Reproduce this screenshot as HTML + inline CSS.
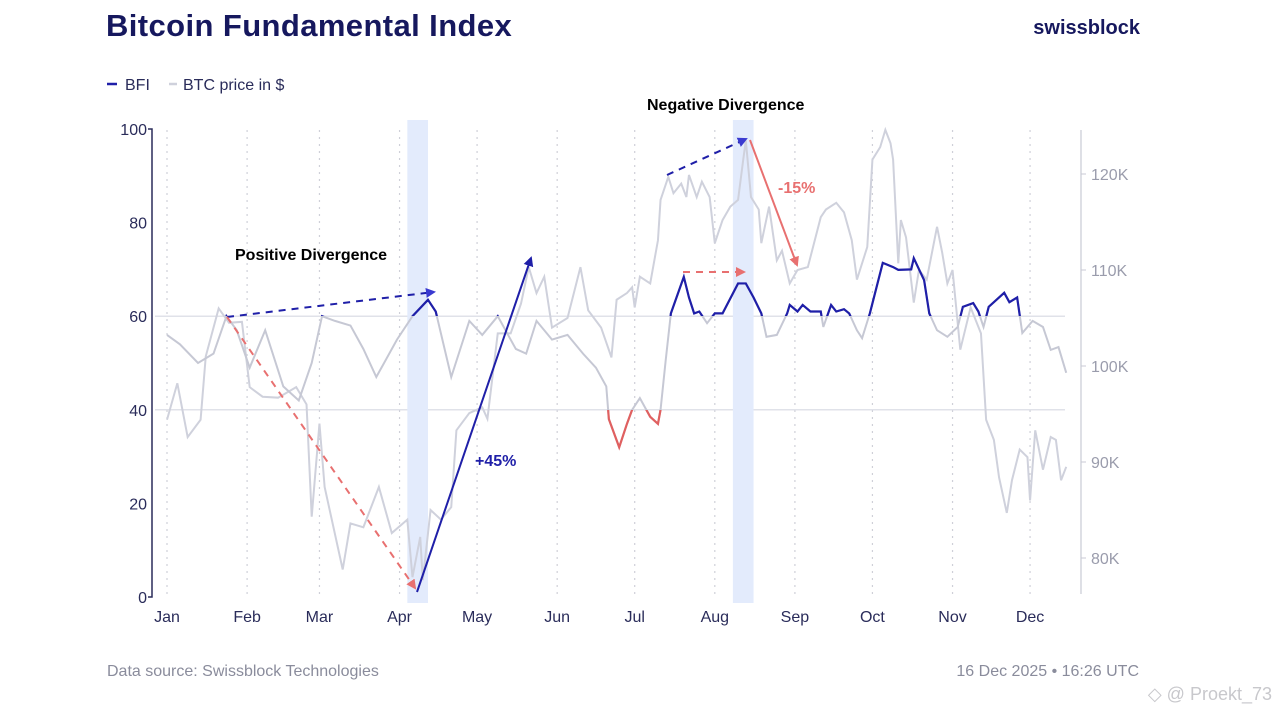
<!DOCTYPE html>
<html><head><meta charset="utf-8"><style>
body{margin:0;background:#fff;width:1280px;height:720px;overflow:hidden;font-family:"Liberation Sans",sans-serif}
svg{position:absolute;left:0;top:0}
</style></head><body>
<svg width="1280" height="720" viewBox="0 0 1280 720" id="chart">
<defs>
<clipPath id="clipBlue"><rect x="0" y="0" width="1280" height="316"/></clipPath>
<clipPath id="clipRed"><rect x="0" y="410" width="1280" height="300"/></clipPath>
<marker id="mBlue" viewBox="0 0 10 10" refX="8" refY="5" markerWidth="5" markerHeight="5" orient="auto"><path d="M0,0L10,5L0,10z" fill="#3a3ad0"/></marker>
<marker id="mNavy" viewBox="0 0 10 10" refX="8" refY="5" markerWidth="5" markerHeight="5" orient="auto"><path d="M0,0L10,5L0,10z" fill="#1f1fa8"/></marker>
<marker id="mRed" viewBox="0 0 10 10" refX="8" refY="5" markerWidth="5" markerHeight="5" orient="auto"><path d="M0,0L10,5L0,10z" fill="#e87070"/></marker>
</defs>
<text x="106" y="36" font-size="31" font-weight="bold" letter-spacing="0.4" fill="#16185e">Bitcoin Fundamental Index</text>
<text x="1140" y="34" font-size="20" font-weight="bold" fill="#16185e" text-anchor="end">swissblock</text>
<g>
<line x1="107" y1="84" x2="117" y2="84" stroke="#1f1fa8" stroke-width="2.5"/>
<text x="125" y="90" font-size="16" fill="#2a2c5a">BFI</text>
<line x1="169" y1="84" x2="177" y2="84" stroke="#cfd1dc" stroke-width="2.5"/>
<text x="183" y="90" font-size="16" fill="#2a2c5a">BTC price in $</text>
</g>
<g id="grid"></g>
<g id="bands"></g>
<g id="axes"></g>
<g id="series"></g>
<g>
<line x1="227" y1="317" x2="434" y2="292" stroke="#1f1fa8" stroke-width="2" stroke-dasharray="7,6" marker-end="url(#mBlue)"/>
<line x1="227" y1="317" x2="415" y2="588" stroke="#e87070" stroke-width="2" stroke-dasharray="7,6" marker-end="url(#mRed)"/>
<line x1="417" y1="592" x2="531" y2="258" stroke="#1f1fa8" stroke-width="2" marker-end="url(#mNavy)"/>
<text x="475" y="466" font-size="16" font-weight="bold" fill="#1f1fa8">+45%</text>
<text x="235" y="260" font-size="16" font-weight="bold" fill="#000">Positive Divergence</text>
<line x1="667" y1="175" x2="746" y2="139" stroke="#1f1fa8" stroke-width="2" stroke-dasharray="7,6" marker-end="url(#mBlue)"/>
<line x1="750" y1="140" x2="797" y2="265" stroke="#e87070" stroke-width="2" marker-end="url(#mRed)"/>
<text x="778" y="193" font-size="16" font-weight="bold" fill="#e87070">-15%</text>
<line x1="683" y1="272" x2="744" y2="272" stroke="#e87070" stroke-width="2" stroke-dasharray="7,6" marker-end="url(#mRed)"/>
<text x="647" y="110" font-size="16" font-weight="bold" fill="#000">Negative Divergence</text>
</g>
<text x="107" y="676" font-size="16" fill="#8a8c9c">Data source: Swissblock Technologies</text>
<text x="1139" y="676" font-size="16" fill="#8a8c9c" text-anchor="end">16 Dec 2025 • 16:26 UTC</text>
<text x="1272" y="700" font-size="18" fill="#c8c8cc" text-anchor="end">◇ @ Proekt_73</text>
</svg>
<script>
const monthLabels=["Jan","Feb","Mar","Apr","May","Jun","Jul","Aug","Sep","Oct","Nov","Dec"];
const monthDays=[0,31,59,90,120,151,181,212,243,273,304,334];
const leftTicks=[0,20,40,60,80,100];
const rightTicks=[80,90,100,110,120];
const rightTickLabels=["80K","90K","100K","110K","120K"];
const bfiDays=[0,5,12,18,23,27,32,38,45,51,56,60,65,71,76,81,89,95,101,104,110,117,122,128,135,139,143,149,155,161,166,170,171,175,178,180,183,187,190,191,193,195,200,202,204,206,209,212,215,221,224,227,230,232,236,240,241,244,246,249,253,254,257,259,262,264,267,269,272,277,281,283,288,289,293,295,298,302,306,308,312,314,316,318,324,326,329,331,335,339,342,345,348];
const bfiValues=[56,54,50,52,60,57,49,57,45,42,50,60,59,58,53,47,55,60,63.5,61,47,59,56,60,53,52,59,55,56,52,49,45,38,32,37,40,42.5,38.5,37,40,50.6,60.6,68.4,64,60.6,61,58.5,60.6,60.6,67,67,64,60.6,55.6,56,60.6,62.4,61,62.4,61,61,57.7,62.4,61,61.5,60.6,57,55.3,60.6,71.4,70.5,69.9,70,72.4,67.7,60.6,57,55.6,57.7,62,62.8,61,57.7,62,65,63,64,56.4,59,57.7,52.8,53.4,47.9];
const btcDays=[0,4,8,13,15,18,20,24,29,32,37,43,50,54,56,59,61,68,71,76,82,87,93,95,98,99,102,106,110,112,117,122,124,128,133,137,140,143,146,149,155,160,163,168,172,174,178,180,181,183,187,190,191,194,196,199,201,202,205,207,210,212,215,218,221,223,224,226,229,230,233,236,238,241,244,248,253,255,259,262,265,267,271,273,276,278,280,281,283,284,286,289,291,294,298,300,302,304,307,311,315,317,320,322,325,327,330,333,334,336,339,342,344,346,348];
const btcValues=[94.4,98.2,92.6,94.4,101,104,106,104.5,104.6,97.8,96.8,96.7,97.8,96,84.3,94,87.4,78.8,83.6,83.2,87.4,82.6,84,78,82.2,77.7,85,84,85.3,93.3,95.1,95.7,94.5,103.4,103.4,106.5,110.3,107.6,109.3,104,105,110.3,105.8,104,100.9,106.9,107.6,108.2,106.1,109.3,108.6,113.1,117.3,119.7,118,119,117.6,119.9,117.6,119.2,117.6,112.8,115.2,116.6,117.3,121.5,123.5,117.6,116.3,112.8,116.6,111,112,108.6,110,110.3,115.5,116.3,117,116,113.1,109,112.4,121.5,122.8,124.6,123.2,121.5,110.7,115.2,113.4,106.6,110,109,114.5,111.8,108.6,110,101.7,106.1,103.4,94.4,92.3,88.4,84.7,88.1,91.3,90.5,86,93.3,89.2,92.6,92.3,88.1,89.5];
const bands=[[93,101],[219,227]];
const NS="http://www.w3.org/2000/svg";
const xS=d=>167+d*2.584;
const yL=v=>597-v*4.68;
const yR=p=>366-(p-100)*9.6;
function mk(tag,attrs,parent){const e=document.createElementNS(NS,tag);for(const k in attrs)e.setAttribute(k,attrs[k]);parent.appendChild(e);return e;}
const grid=document.getElementById('grid'),axes=document.getElementById('axes'),series=document.getElementById('series'),bandG=document.getElementById('bands');
monthDays.forEach((d,i)=>{
  const l=mk('line',{x1:xS(d),x2:xS(d),y1:130,y2:596,stroke:'#cfd0d8','stroke-width':1.2,'stroke-dasharray':'2,5'},grid);
  
  
  const t=mk('text',{x:xS(d),y:622,'font-size':16,fill:'#2a2c5a','text-anchor':'middle'},axes);
  t.textContent=monthLabels[i];
  
  
});
[40,60].forEach(v=>{
  const l=mk('line',{x1:155,x2:1065,y1:yL(v),y2:yL(v),stroke:'#d6d8e2','stroke-width':1.2},grid);
  
  
});
bands.forEach(b=>{
  const r=mk('rect',{x:xS(b[0]),y:120,width:xS(b[1])-xS(b[0]),height:483,fill:'#e3ebfc'},bandG);
  
  
});
const la=mk('polyline',{points:`148,${yL(100)} 152,${yL(100)} 152,${yL(0)} 148,${yL(0)}`,fill:'none',stroke:'#2a2c5a','stroke-width':1.5},axes);


leftTicks.forEach(v=>{
  const t=mk('text',{x:147,y:yL(v)+6,'font-size':16,fill:'#2a2c5a','text-anchor':'end'},axes);
  t.textContent=v;
  
  
});
const ra=mk('line',{x1:1081,x2:1081,y1:130,y2:594,stroke:'#c8cad4','stroke-width':1.2},axes);


rightTicks.forEach((p,i)=>{
  mk('line',{x1:1081,x2:1086,y1:yR(p),y2:yR(p),stroke:'#c8cad4'},axes);
  const t=mk('text',{x:1091,y:yR(p)+6,'font-size':16,fill:'#9a9cac'},axes);
  t.textContent=rightTickLabels[i];
  
  
});
const btcPts=btcDays.map((d,i)=>xS(d)+','+yR(btcValues[i])).join(' ');
const bfiPts=bfiDays.map((d,i)=>xS(d)+','+yL(bfiValues[i])).join(' ');
const btc=mk('polyline',{points:btcPts,fill:'none',stroke:'#cfd1dc','stroke-width':2},series);


const bg=mk('polyline',{points:bfiPts,fill:'none',stroke:'#c6c8d4','stroke-width':2},series);


const bb=mk('polyline',{points:bfiPts,fill:'none',stroke:'#1f1fa8','stroke-width':2.2,'clip-path':'url(#clipBlue)'},series);


const br=mk('polyline',{points:bfiPts,fill:'none',stroke:'#e06060','stroke-width':2.2,'clip-path':'url(#clipRed)'},series);


</script>
</body></html>
